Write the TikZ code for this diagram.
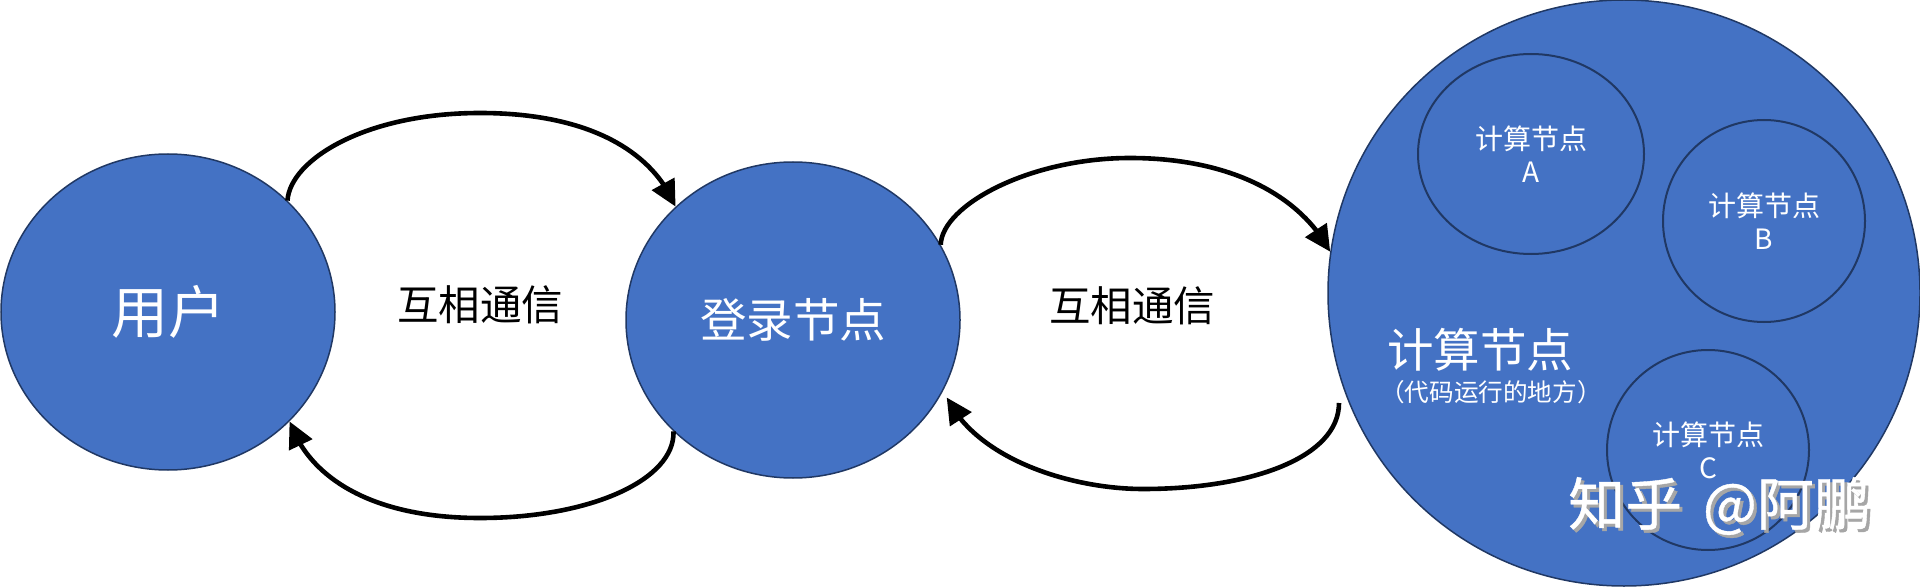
\documentclass[tikz,border=0pt]{standalone}
\usepackage{fontspec}
\setmainfont{Noto Sans CJK SC}
\newfontfamily\wmfont[FakeBold=0.7]{Noto Sans CJK SC}
\usetikzlibrary{shapes.geometric,arrows.meta,bending,calc}
\definecolor{blobfill}{HTML}{4472C4}
\definecolor{blobline}{HTML}{203864}
\newcommand{\fsz}[1]{\fontsize{#1}{#1}\selectfont}
\tikzset{
  blob/.style={ellipse,draw=blobline,line width=1.5pt,fill=blobfill,inner sep=0pt,text=white,align=center},
  inner/.style={blob,line width=2pt,font=\fsz{28}},
  txt/.style={inner sep=0pt,align=center},
  link/.style={draw=black,line width=4.6pt,-{Triangle[length=26pt,width=25pt,flex]}},
  mark1/.style={inner sep=0pt,font=\wmfont\fsz{57}}
}
\begin{document}
\begin{tikzpicture}[x=1pt,y=-1pt]
\useasboundingbox (0,0) rectangle (1920,588);
\fill[white] (0,0) rectangle (1920,588);
% main nodes
\node[blob,minimum width=334pt,minimum height=316pt,font=\fsz{57}] (user) at (168,312) {用户};
\node[blob,minimum width=334pt,minimum height=316pt,font=\fsz{46.5}] (login) at (793,320) {登录节点};
\node[blob,minimum width=592pt,minimum height=586pt] (big) at (1624,293) {};
\node[inner,minimum width=226pt,minimum height=200pt] (a) at (1531,154) {计算节点\\[5pt]A};
\node[inner,minimum width=202pt,minimum height=202pt] (b) at (1764,221) {计算节点\\[5pt]B};
\node[inner,minimum width=202pt,minimum height=200pt] (c) at (1708,450) {计算节点\\[5pt]C};
% texts
\node[txt,font=\fsz{41.5}] (t1) at (480,305) {互相通信};
\node[txt,font=\fsz{41.5}] (t2) at (1132,306) {互相通信};
\node[txt,text=white,font=\fsz{46.5}] (t3) at (1480,350) {计算节点};
\node[txt,text=white,font=\fsz{24.6}] (t4) at (1491,392) {（代码运行的地方）};
% connectors
\coordinate (free) at (1339,403);
\path[link] (user.43) .. controls (290,160) and (365,113) .. (480,113)
   .. controls (587,113) and (652,150) .. (login.136);
\path[link] (login.223) .. controls (675,480) and (590,518) .. (480,518)
   .. controls (375,518) and (310,480) .. (user.-42);
\path[link] (login.27) .. controls (942,205) and (1030,158) .. (1130,158)
   .. controls (1230,158) and (1300,195) .. (big.172);
\path[link,shorten >=8pt] (free) .. controls (1339,458) and (1250,489) .. (1143,489)
   .. controls (1070,489) and (970,458) .. (login.-25);
% watermark
\node[mark1,text=black!35,anchor=west] (wm0) at (1571,509) {知乎\hspace{8pt} @阿鹏};
\node[mark1,text=white,anchor=west] (wm) at (1568,506) {知乎\hspace{8pt} @阿鹏};
\end{tikzpicture}
\end{document}
